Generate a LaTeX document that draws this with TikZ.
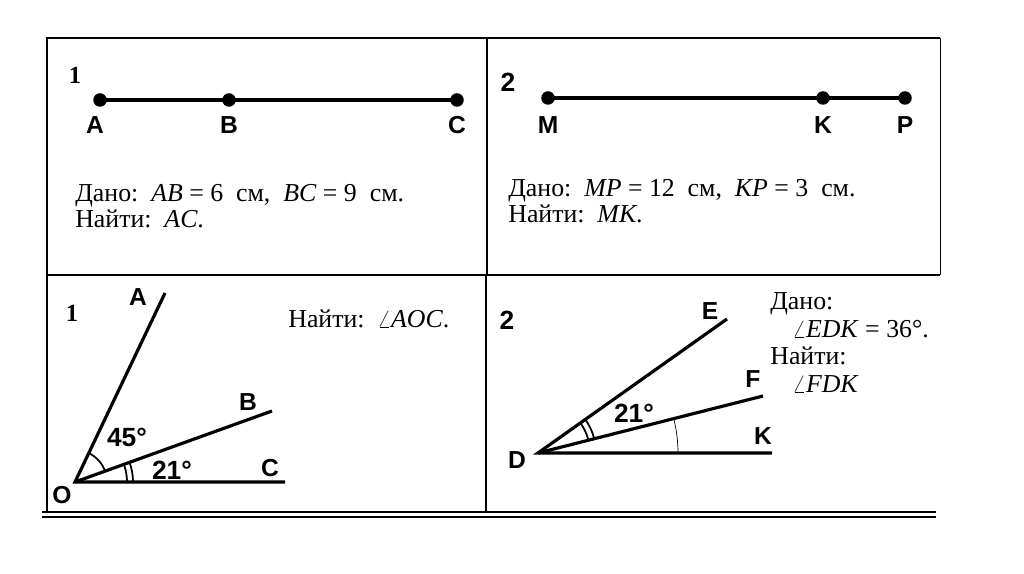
\documentclass[tikz,border=0pt]{standalone}
\usepackage{fontspec}
\setmainfont{Liberation Serif}
\setsansfont{Liberation Sans}
\tikzset{
  seg/.style={line width=1.8pt},
  frame/.style={line width=1.3pt},
  dot/.style={circle,fill,inner sep=0pt,minimum size=0.27cm},
  lbl/.style={font=\sffamily\bfseries\fontsize{14}{16}\selectfont,inner sep=0pt},
  deg/.style={font=\sffamily\bfseries\fontsize{15}{17}\selectfont,inner sep=0pt},
  numserif/.style={font=\bfseries\fontsize{14}{16}\selectfont,inner sep=0pt},
  numsans/.style={font=\sffamily\bfseries\fontsize{15}{17}\selectfont,inner sep=0pt},
  txt/.style={anchor=base west,font=\fontsize{14.7}{17}\selectfont,inner sep=0pt}
}
\begin{document}
\begin{tikzpicture}[x=0.02cm,y=0.02cm]
    \useasboundingbox (0,0) rectangle (1024,574);
    % frames
    \draw[frame] (47,536) rectangle (487,299);
    \draw[frame] (487,536) -- (940,536);
    \draw[thin] (940,536) -- (940,299);
    \draw[frame] (487,299) -- (940,299);
    \draw[frame] (47,298) -- (47,62);
    \draw[frame] (486,298) -- (486,62);
    \draw[frame] (42,62) -- (936,62);
    \draw[frame] (42,57) -- (936,57);

    % task 1, segment
    \node[numserif] (n1) at (75,499) {1};
    \node[dot] (A) at (100,474) {};
    \node[dot] (B) at (229,474) {};
    \node[dot] (C) at (457,474) {};
    \draw[seg] (A.center) -- (B.center) -- (C.center);
    \node[lbl] (lA) at (95,449) {A};
    \node[lbl] (lB) at (229,449) {B};
    \node[lbl] (lC) at (457,449) {C};
    \node[txt] (given1) at (75,372) {Дано:\ \ \textit{AB} = 6\ \ см,\ \ \textit{BC} = 9\ \ см.};
    \node[txt] (find1) at (75,346) {Найти:\ \ \textit{AC}.};

    % task 2, segment
    \node[numsans] (n2) at (508,492) {2};
    \node[dot] (M) at (548,476) {};
    \node[dot] (K) at (823,476) {};
    \node[dot] (P) at (905,476) {};
    \draw[seg] (M.center) -- (K.center) -- (P.center);
    \node[lbl] (lM) at (548,449) {M};
    \node[lbl] (lK) at (823,449) {K};
    \node[lbl] (lP) at (905,449) {P};
    \node[txt] (given2) at (508,377) {Дано:\ \ \textit{MP} = 12\ \ см,\ \ \textit{KP} = 3\ \ см.};
    \node[txt] (find2) at (508,351) {Найти:\ \ \textit{MK}.};

    % task 1, angle
    \node[numserif] (n3) at (72,261) {1};
    \coordinate (O) at (75,92);
    \coordinate (OA) at (165,281);
    \coordinate (OB) at (272,163);
    \coordinate (OC) at (285,92);
    \draw[seg] (OA) -- (O) -- (OC);
    \draw[seg] (O) -- (OB);
    \draw[line width=1pt] (O) ++(19.8:32) arc[start angle=19.8,end angle=64.5,radius=32];
    \draw[line width=1pt] (O) ++(0:52) arc[start angle=0,end angle=19.8,radius=52];
    \draw[line width=1pt] (O) ++(0:58) arc[start angle=0,end angle=19.8,radius=58];
    \node[lbl] (lOA) at (138,277) {A};
    \node[lbl] (lOB) at (248,172) {B};
    \node[lbl] (lOC) at (270,106) {C};
    \node[lbl] (lO) at (62,79) {O};
    \node[deg] (a45) at (127,137) {45°};
    \node[deg] (a21) at (172,104) {21°};
    \node[txt] (find3) at (288,246) {Найти:\ \ $\angle$\textit{AOC}.};

    % task 2, angle
    \node[numsans] (n4) at (507,254) {2};
    \coordinate (D) at (538,121);
    \coordinate (DE) at (727,255);
    \coordinate (DF) at (763,178);
    \coordinate (DK) at (772,121);
    \draw[seg] (DE) -- (D) -- (DK);
    \draw[seg] (D) -- (DF);
    \draw[line width=1pt] (D) ++(14.2:52) arc[start angle=14.2,end angle=35.3,radius=52];
    \draw[line width=1pt] (D) ++(14.2:58) arc[start angle=14.2,end angle=35.3,radius=58];
    \draw[line width=0.4pt] (D) ++(0:140) arc[start angle=0,end angle=14.2,radius=140];
    \node[lbl] (lE) at (710,263) {E};
    \node[lbl] (lF) at (753,195) {F};
    \node[lbl] (lK2) at (763,138) {K};
    \node[lbl] (lD) at (517,114) {D};
    \node[deg] (b21) at (634,161) {21°};
    \node[txt] (given4) at (770,264) {Дано:};
    \node[txt] (val4) at (792,236) {$\angle$\textit{EDK} = 36°.};
    \node[txt] (find4) at (770,209) {Найти:};
    \node[txt] (ask4) at (792,181) {$\angle$\textit{FDK}};
\end{tikzpicture}
\end{document}
